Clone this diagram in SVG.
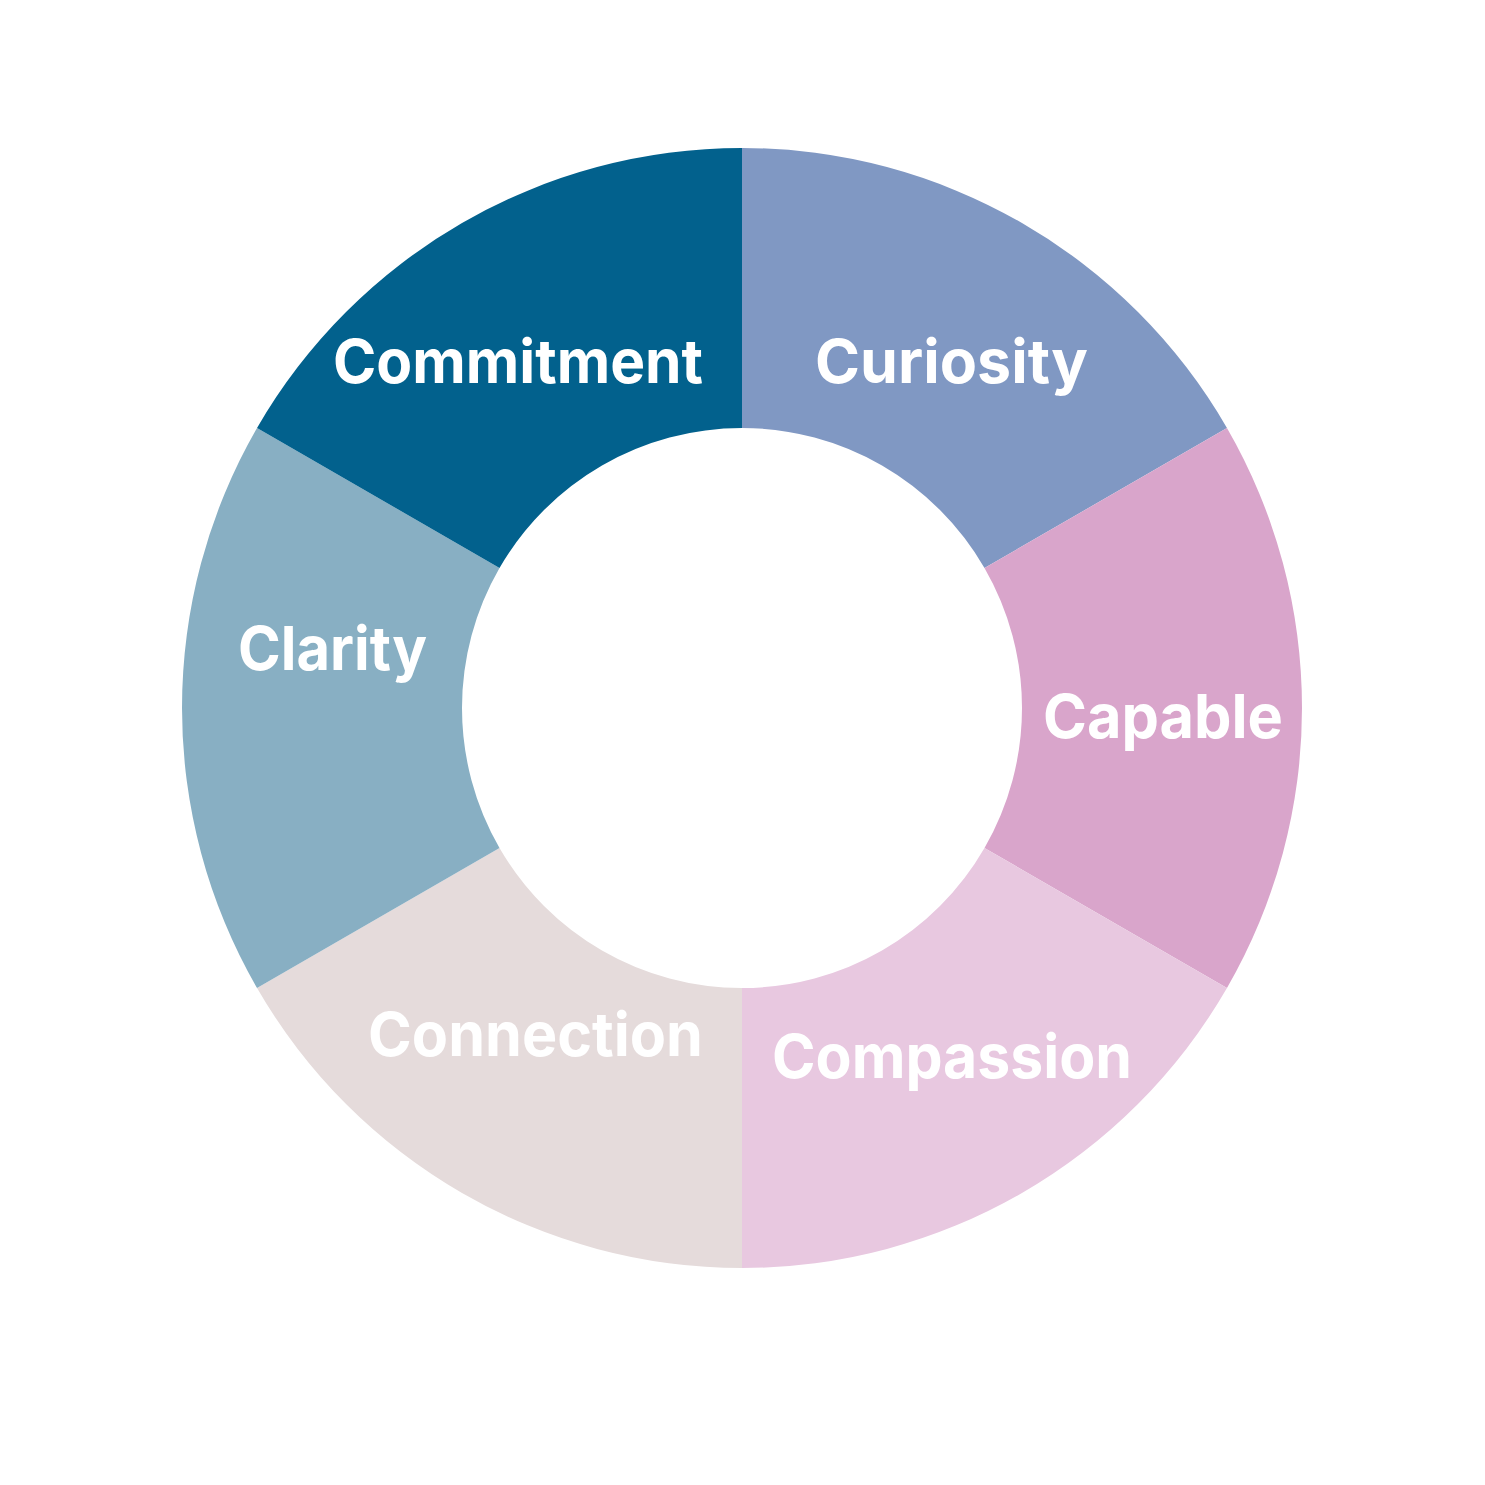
<svg xmlns="http://www.w3.org/2000/svg" width="1485" height="1485" viewBox="0 0 1485 1485">
<style>
.lbl{font-family:Inter,"Liberation Sans",sans-serif;font-weight:700;font-size:61px;fill:#ffffff}
</style>
<rect width="1485" height="1485" fill="#ffffff"/>
<g id="curiosity">
<path d="M742,148 A560,560 0 0 1 1226.97,428 L984.49,568 A280,280 0 0 0 742,428 Z" fill="#8098C3"/>
<text class="lbl" x="815" y="383" textLength="273" lengthAdjust="spacingAndGlyphs">Curiosity</text>
</g>
<g id="capable">
<path d="M1226.97,428 A560,560 0 0 1 1226.97,988 L984.49,848 A280,280 0 0 0 984.49,568 Z" fill="#D9A5CB"/>
<text class="lbl" x="1043" y="738" textLength="240" lengthAdjust="spacingAndGlyphs">Capable</text>
</g>
<g id="compassion">
<path d="M1226.97,988 A560,560 0 0 1 742,1268 L742,988 A280,280 0 0 0 984.49,848 Z" fill="#E8C8E0"/>
<text class="lbl" x="772" y="1078" textLength="360" lengthAdjust="spacingAndGlyphs">Compassion</text>
</g>
<g id="connection">
<path d="M742,1268 A560,560 0 0 1 257.03,988 L499.51,848 A280,280 0 0 0 742,988 Z" fill="#E5DBDB"/>
<text class="lbl" x="368" y="1056" textLength="335" lengthAdjust="spacingAndGlyphs">Connection</text>
</g>
<g id="clarity">
<path d="M257.03,988 A560,560 0 0 1 257.03,428 L499.51,568 A280,280 0 0 0 499.51,848 Z" fill="#88AFC3"/>
<text class="lbl" x="238" y="670" textLength="189" lengthAdjust="spacingAndGlyphs">Clarity</text>
</g>
<g id="commitment">
<path d="M257.03,428 A560,560 0 0 1 742,148 L742,428 A280,280 0 0 0 499.51,568 Z" fill="#02618D"/>
<text class="lbl" x="333" y="383" textLength="370" lengthAdjust="spacingAndGlyphs">Commitment</text>
</g>
<g id="connectors"></g>
</svg>
